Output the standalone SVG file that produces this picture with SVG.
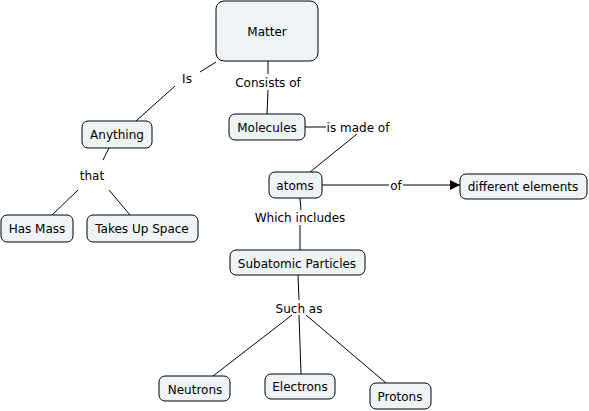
<svg xmlns="http://www.w3.org/2000/svg" width="589" height="411" viewBox="0 0 589 411">
<style>
.n rect{fill:#eef3f5;stroke:#000;stroke-width:1}
text{font-family:"DejaVu Sans",Verdana,sans-serif;font-size:12px;fill:#000;text-anchor:middle;dominant-baseline:central}
.c line{stroke:#000;stroke-width:1}
</style>
<defs>
<marker id="ah" markerWidth="10" markerHeight="10" refX="10" refY="5" orient="auto" markerUnits="userSpaceOnUse">
<path d="M0,0 L10,5 L0,10 Z" fill="#000"/>
</marker>
</defs>
<rect width="589" height="411" fill="#fff"/>
<g class="c">
<line x1="216" y1="62" x2="200" y2="72"/>
<line x1="175" y1="86" x2="136" y2="121"/>
<line x1="268" y1="61" x2="268" y2="74"/>
<line x1="268" y1="90" x2="267" y2="114"/>
<line x1="305" y1="127" x2="326" y2="127"/>
<line x1="357" y1="134" x2="310" y2="172"/>
<line x1="322" y1="185" x2="389" y2="185"/>
<line x1="403" y1="185" x2="460" y2="185" marker-end="url(#ah)"/>
<line x1="300" y1="198" x2="301" y2="210"/>
<line x1="300" y1="225" x2="300" y2="250"/>
<line x1="109" y1="148" x2="103" y2="160"/>
<line x1="78" y1="190" x2="52" y2="215"/>
<line x1="109" y1="190" x2="130" y2="215"/>
<line x1="298" y1="275" x2="299" y2="300"/>
<line x1="292" y1="315" x2="213" y2="376"/>
<line x1="299" y1="315" x2="301" y2="374"/>
<line x1="306" y1="315" x2="386" y2="383"/>
</g>
<g id="labels">
<text x="187" y="79">Is</text>
<text x="268" y="83">Consists of</text>
<text x="358" y="128">is made of</text>
<text x="92" y="176">that</text>
<text x="396" y="186">of</text>
<text x="300" y="218">Which includes</text>
<text x="299" y="309">Such as</text>
</g>
<g id="matter" class="n"><rect x="216" y="1" width="102" height="60" rx="8"/><text x="267" y="32">Matter</text></g>
<g id="anything" class="n"><rect x="82" y="121" width="70" height="27" rx="6"/><text x="117" y="135">Anything</text></g>
<g id="molecules" class="n"><rect x="229" y="114" width="76" height="26" rx="6"/><text x="267" y="128">Molecules</text></g>
<g id="atoms" class="n"><rect x="269" y="172" width="53" height="26" rx="6"/><text x="295" y="186">atoms</text></g>
<g id="elements" class="n"><rect x="460" y="174" width="127" height="25" rx="6"/><text x="523" y="187">different elements</text></g>
<g id="hasmass" class="n"><rect x="1" y="215" width="72" height="27" rx="6"/><text x="37" y="229">Has Mass</text></g>
<g id="takesup" class="n"><rect x="87" y="215" width="111" height="27" rx="6"/><text x="142" y="229">Takes Up Space</text></g>
<g id="subatomic" class="n"><rect x="230" y="250" width="135" height="25" rx="6"/><text x="297" y="264">Subatomic Particles</text></g>
<g id="neutrons" class="n"><rect x="159" y="376" width="71" height="25" rx="6"/><text x="195" y="390">Neutrons</text></g>
<g id="electrons" class="n"><rect x="265" y="374" width="70" height="25" rx="6"/><text x="300" y="387">Electrons</text></g>
<g id="protons" class="n"><rect x="370" y="383" width="61" height="26" rx="6"/><text x="400" y="397">Protons</text></g>
</svg>
